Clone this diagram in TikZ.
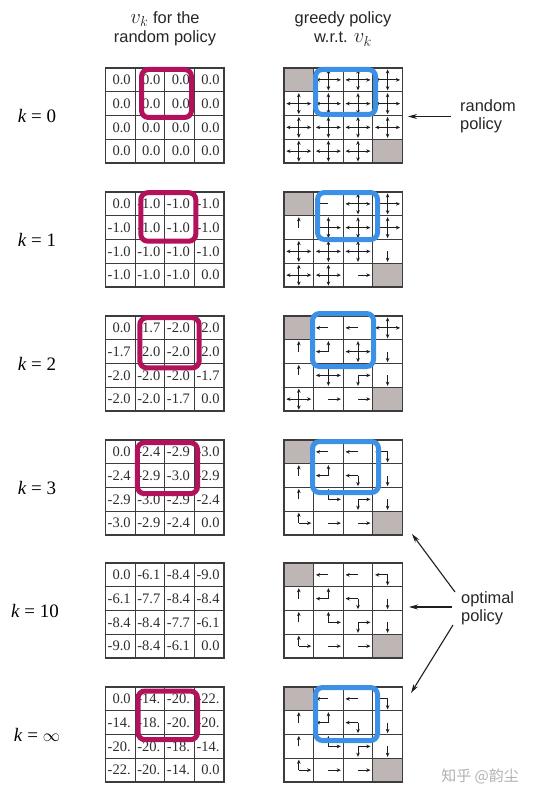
\documentclass[tikz,border=0pt]{standalone}
\usepackage{fontspec}
\setmainfont{Liberation Serif}
\setsansfont{Liberation Sans}
\newfontfamily\cjkfont{Noto Sans CJK SC}
\usetikzlibrary{arrows.meta}
\definecolor{gridc}{RGB}{60,60,60}
\definecolor{numc}{RGB}{45,45,45}
\definecolor{termc}{RGB}{190,182,180}
\definecolor{magc}{RGB}{178,18,92}
\definecolor{bluec}{RGB}{60,145,230}
\definecolor{arrc}{RGB}{30,30,30}
\tikzset{
 gridline/.style={draw=gridc, line width=1.2},
 numtext/.style={font=\fontsize{14.5}{16}\selectfont, text=numc, inner sep=0pt, anchor=east},
 hdr/.style={font=\sffamily\fontsize{16.4}{19}\selectfont, text=black!85, inner sep=0pt, anchor=base},
 side/.style={font=\sffamily\fontsize{16.4}{19}\selectfont, text=black!85, inner sep=0pt, anchor=base west},
 klabel/.style={font=\fontsize{19}{22}\selectfont, inner sep=0pt, anchor=base},
 parrow/.style={draw=arrc, line width=0.95, -{Stealth[length=4.2,width=3.6]}},
 conn/.style={draw=arrc, line width=1.1, -{Stealth[length=9,width=5]}},
 magbox/.style={draw=magc, line width=5, rounded corners=7},
 bluebox/.style={draw=bluec, line width=5, rounded corners=7},
}
\def\LX{105.5}
\def\RX{284}
\def\CW{29.6}
\def\CH{23.75}
\newcommand\drawgrid[2]{%
 \foreach \j in {1,...,3} {
   \draw[gridline] ({#1+\j*\CW},#2) -- ({#1+\j*\CW},{#2+4*\CH});
   \draw[gridline] (#1,{#2+\j*\CH}) -- ({#1+4*\CW},{#2+\j*\CH});
 }
 \draw[gridline] (#1,#2) rectangle ({#1+4*\CW},{#2+4*\CH});
}
\newcommand\valgrid[3]{%
 \foreach \v [count=\i from 0] in {#3} {
   \pgfmathtruncatemacro\rr{floor(\i/4)}
   \pgfmathtruncatemacro\cc{\i-4*\rr}
   \node[numtext] (#1-\rr-\cc) at ({\LX+(\cc+1)*\CW-4.2},{#2+(\rr+0.5)*\CH}) {\v};
 }
 \drawgrid{\LX}{#2}
}
\def\arL{\draw[parrow] (\cx,\cy) -- ++(-12.5,0);}
\def\arR{\draw[parrow] (\cx,\cy) -- ++(12.5,0);}
\def\arU{\draw[parrow] (\cx,\cy) -- ++(0,-10.5);}
\def\arD{\draw[parrow] (\cx,\cy) -- ++(0,10.5);}
\def\dirT{\fill[termc] ({\cx-\CW/2},{\cy-\CH/2}) rectangle ({\cx+\CW/2},{\cy+\CH/2});}
\def\dirA{\arL\arR\arU\arD}
\def\dirL{\arL}
\def\dirR{\arR}
\def\dirU{\arU}
\def\dirD{\arD}
\def\dirLU{\arL\arU}
\def\dirLD{\arL\arD}
\def\dirRD{\arR\arD}
\def\dirUR{\arU\arR}
\newcommand\polgrid[2]{%
 \foreach \p [count=\i from 0] in {#2} {
   \pgfmathtruncatemacro\rr{floor(\i/4)}
   \pgfmathtruncatemacro\cc{\i-4*\rr}
   \pgfmathsetmacro\cx{\RX+(\cc+0.5)*\CW}
   \pgfmathsetmacro\cy{#1+(\rr+0.5)*\CH}
   \csname dir\p\endcsname
 }
 \drawgrid{\RX}{#1}
}
\newcommand\vkmath{{\fontsize{22}{22}\selectfont$v_k$}}
\begin{document}
\begin{tikzpicture}[x=1pt,y=-1pt]
\useasboundingbox (0,0) rectangle (533,797);
\fill[white] (0,0) rectangle (533,797);

% headers
\node[hdr] (h1a) at (165,23.5) {\vkmath{} for the};
\node[hdr] (h1b) at (165,43) {random policy};
\node[hdr] (h2a) at (343,23.5) {greedy policy};
\node[hdr] (h2b) at (343,43) {w.r.t. \vkmath};

% k labels
\node[klabel] (k0) at (37,123) {\textit{k} = 0};
\node[klabel] (k1) at (37,246) {\textit{k} = 1};
\node[klabel] (k2) at (37,370) {\textit{k} = 2};
\node[klabel] (k3) at (37,494) {\textit{k} = 3};
\node[klabel] (k10) at (35,617) {\textit{k} = 10};
\node[klabel] (kinf) at (37,741) {\textit{k} = $\infty$};

% value grids
\valgrid{a}{68}{0.0,0.0,0.0,0.0, 0.0,0.0,0.0,0.0, 0.0,0.0,0.0,0.0, 0.0,0.0,0.0,0.0}
\valgrid{b}{192}{0.0,-1.0,-1.0,-1.0, -1.0,-1.0,-1.0,-1.0, -1.0,-1.0,-1.0,-1.0, -1.0,-1.0,-1.0,0.0}
\valgrid{c}{316}{0.0,-1.7,-2.0,-2.0, -1.7,-2.0,-2.0,-2.0, -2.0,-2.0,-2.0,-1.7, -2.0,-2.0,-1.7,0.0}
\valgrid{d}{440}{0.0,-2.4,-2.9,-3.0, -2.4,-2.9,-3.0,-2.9, -2.9,-3.0,-2.9,-2.4, -3.0,-2.9,-2.4,0.0}
\valgrid{e}{563}{0.0,-6.1,-8.4,-9.0, -6.1,-7.7,-8.4,-8.4, -8.4,-8.4,-7.7,-6.1, -9.0,-8.4,-6.1,0.0}
\valgrid{f}{687}{0.0,-14.,-20.,-22., -14.,-18.,-20.,-20., -20.,-20.,-18.,-14., -22.,-20.,-14.,0.0}

% policy grids
\polgrid{68}{T,A,A,A, A,A,A,A, A,A,A,A, A,A,A,T}
\polgrid{192}{T,L,A,A, U,A,A,A, A,A,A,D, A,A,R,T}
\polgrid{316}{T,L,L,A, U,LU,A,D, U,A,RD,D, A,R,R,T}
\polgrid{440}{T,L,L,LD, U,LU,LD,D, U,UR,RD,D, UR,R,R,T}
\polgrid{563}{T,L,L,LD, U,LU,LD,D, U,UR,RD,D, UR,R,R,T}
\polgrid{687}{T,L,L,LD, U,LU,LD,D, U,UR,RD,D, UR,R,R,T}

% highlight boxes
\draw[magbox] (141.5,69.5) rectangle (191.5,117.5);
\draw[bluebox] (315.5,69.5) rectangle (375.5,114.5);
\draw[magbox] (140.8,192.7) rectangle (195.8,241.2);
\draw[bluebox] (317.5,192.5) rectangle (377.5,239.5);
\draw[magbox] (139.8,317.7) rectangle (199.2,367.9);
\draw[bluebox] (312.5,313.5) rectangle (373.5,366.5);
\draw[magbox] (137.4,442.7) rectangle (197.5,493.6);
\draw[bluebox] (312.5,441.5) rectangle (378.5,492.5);
\draw[magbox] (138,691) rectangle (197.5,739.7);
\draw[bluebox] (315.5,687.5) rectangle (377.5,740.5);

% side labels and connectors
\node[side] (rnd1) at (460,111) {random};
\node[side] (rnd2) at (460,129.5) {policy};
\coordinate (rndS) at (451,116.5);
\coordinate (rndE) at (408,116.5);
\draw[conn] (rndS) -- (rndE);

\node[side] (opt1) at (461,603.5) {optimal};
\node[side] (opt2) at (461,621) {policy};
\coordinate (oS1) at (455,592);
\coordinate (oE1) at (412,534);
\coordinate (oS2) at (452,607);
\coordinate (oE2) at (409,607);
\coordinate (oS3) at (453,625);
\coordinate (oE3) at (411,693);
\draw[conn] (oS1) -- (oE1);
\draw[conn] (oS2) -- (oE2);
\draw[conn] (oS3) -- (oE3);

% watermark
\node[font=\cjkfont\fontsize{15}{18}\selectfont, text=black!30, inner sep=0pt, anchor=base east] (wm) at (519,781) {知乎 @韵尘};
\end{tikzpicture}
\end{document}
